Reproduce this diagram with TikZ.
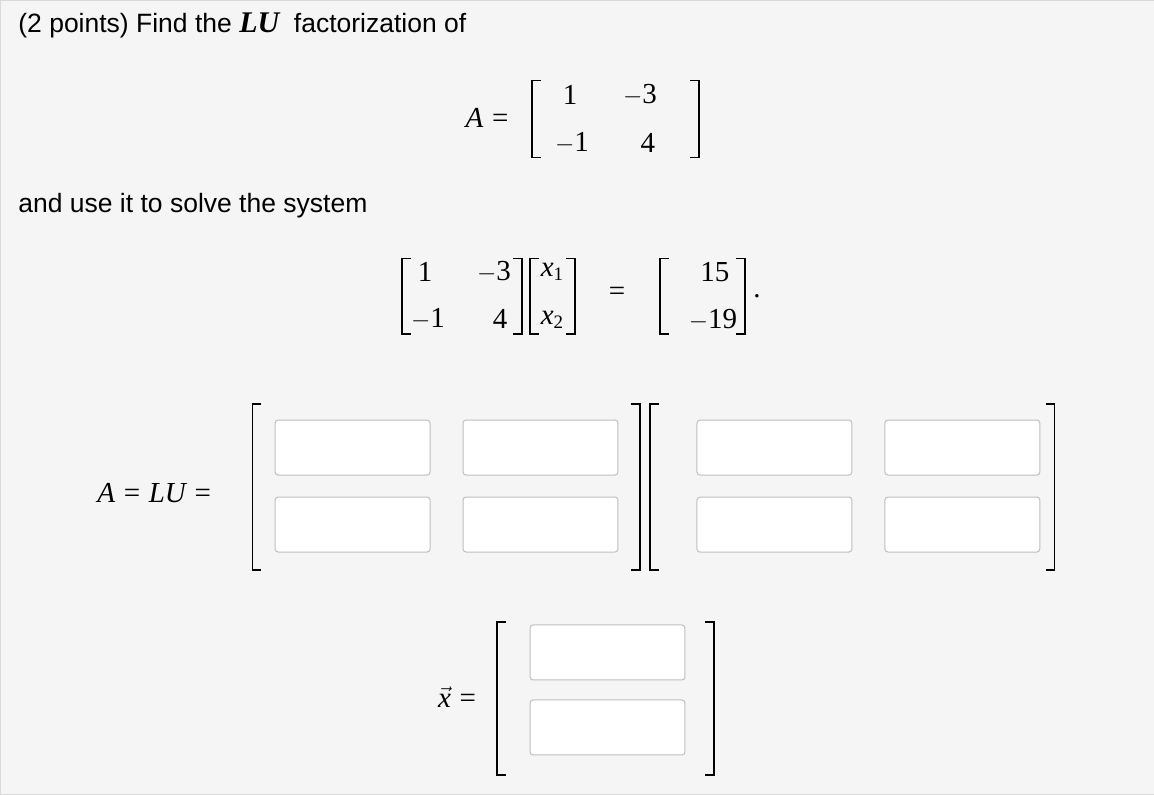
\documentclass[tikz,border=0pt]{standalone}
\usepackage{fontspec}
\setmainfont{Liberation Sans}
\newfontfamily\mathf{Liberation Serif}
\begin{document}
\begin{tikzpicture}[x=1pt,y=-1pt,
  txt/.style={font=\fontsize{26.5}{30}\selectfont,inner sep=0pt},
  mth/.style={font=\mathf\fontsize{29}{31}\selectfont,inner sep=0pt},
  ibox/.style={draw=black!25,fill=white,rounded corners=3pt,line width=1pt},
  brk/.style={line width=1.2pt}]
\fill[black!4,draw=black!15] (0,0) rectangle (1154,794);
\useasboundingbox (0,0) rectangle (1154,794);
\newcommand\lbr[3]{\draw[brk] (#1+9,#2)--(#1,#2)--(#1,#3)--(#1+9,#3);}
\newcommand\rbr[3]{\draw[brk] (#1-9,#2)--(#1,#2)--(#1,#3)--(#1-9,#3);}
\newcommand\eqs{\hspace{0.3em}=\hspace{0.3em}}
\node[txt,anchor=west] (t1) at (18,25) {(2 points) Find the {\mathf\itshape\bfseries\fontsize{30}{32}\selectfont LU}\ \ factorization of};
\node[txt,anchor=west] (t2) at (18,206) {and use it to solve the system};
% A matrix
\node[mth] (aeq) at (487,118) {\itshape A\upshape\eqs};
\lbr{532}{80}{157}\rbr{699}{80}{157}
\node[mth] (a11) at (570,95) {1};
\node[mth] (a12) at (640,95) {$-$3};
\node[mth] (a21) at (572,143) {$-$1};
\node[mth] (a22) at (648,143) {4};
% system
\lbr{402}{258}{334}\rbr{522}{258}{334}
\node[mth] (b11) at (425,272) {1};
\node[mth] (b12) at (494,272) {$-$3};
\node[mth] (b21) at (428,319) {$-$1};
\node[mth] (b22) at (500,319) {4};
\lbr{530}{258}{334}\rbr{575}{258}{334}
\node[mth] (x1) at (552,272) {\itshape x\fontsize{19}{20}\selectfont\upshape\raisebox{-4pt}{1}};
\node[mth] (x2) at (552,320) {\itshape x\fontsize{19}{20}\selectfont\upshape\raisebox{-4pt}{2}};
\node[mth] (seq) at (617,294) {=};
\lbr{660}{258}{334}\rbr{745}{258}{334}
\node[mth] (c1) at (715,272) {15};
\node[mth] (c2) at (713,320) {$-$19};
\node[mth] (dot) at (757,296) {.};
% LU
\node[mth] (alu) at (154,493) {\itshape A\upshape\eqs\itshape LU\upshape\eqs};
\lbr{252}{404}{570}\rbr{640}{404}{570}
\lbr{650}{404}{570}\rbr{1055}{404}{570}
\foreach \x/\n in {275/a,463/b,697/c,885/d}{
  \draw[ibox] (\x,420) rectangle node(\n1){} (\x+155,475);
  \draw[ibox] (\x,497) rectangle node(\n2){} (\x+155,552);}
% x vector
\node[mth] (xv) at (457,697) {$\vec{\textit{x}}$\eqs};
\lbr{497}{622}{775}\rbr{714}{622}{775}
\draw[ibox] (530,625) rectangle node(v1){} (685,680);
\draw[ibox] (530,700) rectangle node(v2){} (685,755);
\end{tikzpicture}
\end{document}
